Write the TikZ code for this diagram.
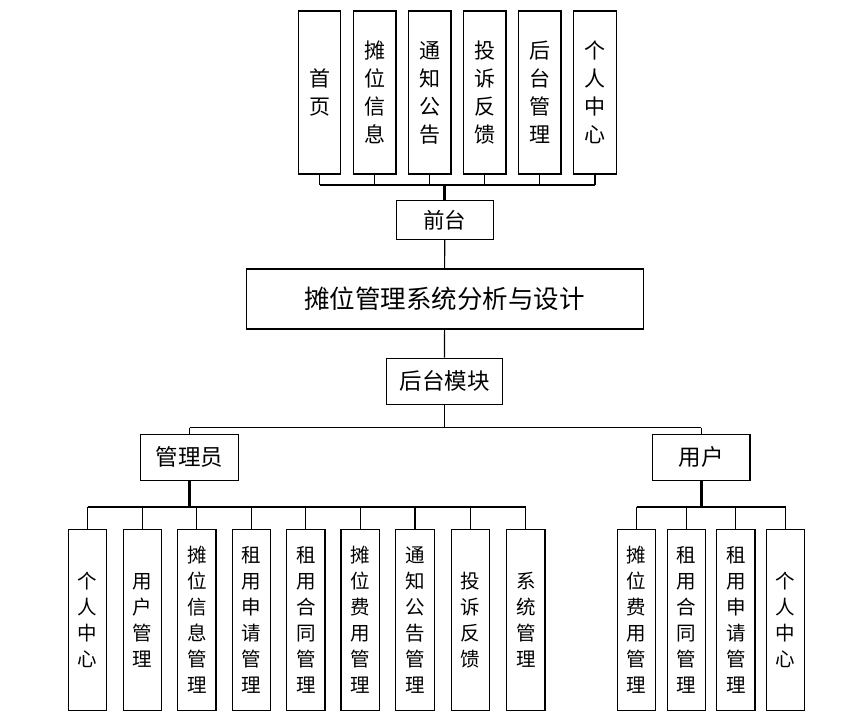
\documentclass[tikz,border=0pt]{standalone}
\usepackage{fontspec}
\newfontfamily\cjk{Noto Sans CJK SC}
\begin{document}
\begin{tikzpicture}[x=1pt,y=-1pt,
  box/.style={draw=black,line width=1.2pt,inner sep=0pt,align=center,fill=white},
  topbox/.style={box,minimum width=42.5pt,minimum height=163pt,font=\cjk\fontsize{21}{28}\selectfont},
  lowbox/.style={box,minimum width=38.3pt,minimum height=181.4pt,font=\cjk\fontsize{19.5}{26}\selectfont},
  midbox/.style={box,minimum height=46pt,font=\cjk\fontsize{22.5}{26}\selectfont},
  conn/.style={line width=1.2pt},
  bus/.style={line width=1.7pt},
  trunk/.style={line width=2.6pt}]
\useasboundingbox (0,0) rectangle (848,716);
% top row
\node[topbox] (t1) at (319.5,92.5) {首\\页};
\node[topbox] (t2) at (374.7,92.5) {摊\\位\\信\\息};
\node[topbox] (t3) at (429.7,92.5) {通\\知\\公\\告};
\node[topbox] (t4) at (484.7,92.5) {投\\诉\\反\\馈};
\node[topbox] (t5) at (539.8,92.5) {后\\台\\管\\理};
\node[topbox] (t6) at (595,92.5) {个\\人\\中\\心};
\node[midbox,minimum width=97pt,minimum height=38.5pt,font=\cjk\fontsize{21.5}{26}\selectfont] (front) at (444.7,220) {前台};
\node[box,minimum width=397pt,minimum height=60pt,font=\cjk\fontsize{25.5}{28}\selectfont] (main) at (444.6,299) {摊位管理系统分析与设计};
\node[midbox,minimum width=115.6pt] (back) at (444.5,381.3) {后台模块};
\node[midbox,minimum width=97.6pt] (admin) at (189.5,457.3) {管理员};
\node[midbox,minimum width=97.7pt] (user) at (701.2,457.2) {用户};
% admin row
\node[lowbox] (a1) at (87.7,620) {个\\人\\中\\心};
\node[lowbox] (a2) at (142.3,620) {用\\户\\管\\理};
\node[lowbox] (a3) at (196.8,620) {摊\\位\\信\\息\\管\\理};
\node[lowbox] (a4) at (251.3,620) {租\\用\\申\\请\\管\\理};
\node[lowbox] (a5) at (305.8,620) {租\\用\\合\\同\\管\\理};
\node[lowbox] (a6) at (360.2,620) {摊\\位\\费\\用\\管\\理};
\node[lowbox] (a7) at (415,620) {通\\知\\公\\告\\管\\理};
\node[lowbox] (a8) at (470.5,620) {投\\诉\\反\\馈};
\node[lowbox] (a9) at (525.8,620) {系\\统\\管\\理};
% user row
\node[lowbox] (u1) at (636.7,620) {摊\\位\\费\\用\\管\\理};
\node[lowbox] (u2) at (686.5,620) {租\\用\\合\\同\\管\\理};
\node[lowbox] (u3) at (735.8,620) {租\\用\\申\\请\\管\\理};
\node[lowbox] (u4) at (785.5,620) {个\\人\\中\\心};
% coordinates of buses
\coordinate (btop) at (444.7,185);
\coordinate (bmid) at (444.5,427.5);
\coordinate (badm) at (189.5,507);
\coordinate (busr) at (701.2,507);
% top connectors
\foreach \n in {t1,t2,t3,t4,t5,t6} \draw[conn] (\n.south) -- (\n.south |- btop);
\draw[bus] (t1.south |- btop) -- (t6.south |- btop);
\draw[trunk] (btop) -- (front.north);
\draw[conn] (front.south) -- (main.north);
\draw[conn] (main.south) -- (back.north);
\draw[conn] (back.south) -- (bmid);
\draw[bus] (admin.north |- bmid) -- (user.north |- bmid);
\draw[conn] (admin.north |- bmid) -- (admin.north);
\draw[conn] (user.north |- bmid) -- (user.north);
% admin connectors
\draw[trunk] (admin.south) -- (badm);
\draw[bus] (a1.north |- badm) -- (a9.north |- badm);
\foreach \n in {a1,a2,a3,a4,a5,a6,a7,a8,a9} \draw[conn] (\n.north |- badm) -- (\n.north);
% user connectors
\draw[trunk] (user.south) -- (busr);
\draw[bus] (u1.north |- busr) -- (u4.north |- busr);
\foreach \n in {u1,u2,u3,u4} \draw[conn] (\n.north |- busr) -- (\n.north);
\end{tikzpicture}
\end{document}
